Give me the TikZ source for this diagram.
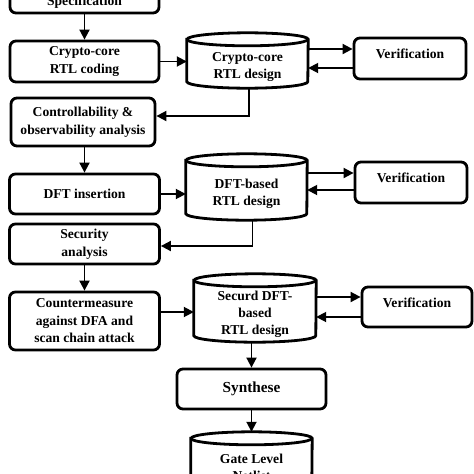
\documentclass[tikz,border=0pt]{standalone}
\usepackage{fontspec}
\setmainfont{Liberation Serif}
\usetikzlibrary{positioning,arrows.meta}

\tikzset{
  box/.style={draw, line width=2.8pt, rounded corners=6pt, align=center,
    font=\bfseries\fontsize{13.6}{17.5}\selectfont, inner sep=2pt},
  verbox/.style={box, minimum width=112pt, minimum height=41pt, text depth=9pt},
  dbbody/.style={align=center, font=\bfseries\fontsize{13.6}{17}\selectfont, inner sep=0pt},
  dbline/.style={line width=2.8pt, fill=white},
  arr/.style={line width=1.8pt, -{Triangle[length=10pt,width=10pt]}}
}

\begin{document}
\begin{tikzpicture}[x=1pt,y=-1pt]
	\useasboundingbox (0,0) rectangle (474,474);
	\clip (0,0) rectangle (474,474);

	% left column
	\node[box, minimum width=149pt, minimum height=42pt, text height=27pt, text depth=0pt] (spec) at (84.5,-8) {Specification};
	\node[box, minimum width=149pt, minimum height=41pt] (code) at (84.5,61.5) {Crypto-core\\RTL coding};
	\node[box, minimum width=144pt, minimum height=48pt] (ctrl) at (83,122) {Controllability \&\\observability analysis};
	\node[box, minimum width=150pt, minimum height=40pt] (dft) at (84.5,194) {DFT insertion};
	\node[box, minimum width=150pt, minimum height=40pt] (sec) at (84.5,244) {Security\\analysis};
	\node[box, minimum width=150pt, minimum height=58pt] (cm) at (84.5,321) {Countermeasure\\against DFA and\\scan chain attack};
	\node[box, minimum width=149pt, minimum height=40pt, font=\bfseries\fontsize{15.3}{18}\selectfont] (syn) at (251.5,389) {Synthese};

	% databases
	\foreach \n/\rx/\h/\p in {db1/60.5/42/{(247.5,67)}, db2/60.5/53/{(246.5,193.5)}, db3/61/55/{(255,314.5)}, db4/60.5/44/{(251.5,467)}}
	\path \p node[minimum width=2*\rx pt, minimum height=\h pt, inner sep=0pt] (\n) {};
	\foreach \n/\rx in {db1/60.5, db2/60.5, db3/61, db4/60.5}{
		\draw[dbline] ([yshift=6.5pt]\n.north west) -- ([yshift=6.5pt]\n.south west) arc(180:360:\rx pt and 6.5pt)
			-- ([yshift=6.5pt]\n.north east) arc(0:180:\rx pt and 6.5pt) -- cycle;
		\draw[dbline, fill=none] ([yshift=6.5pt]\n.north west) arc(180:360:\rx pt and 6.5pt);
	}
	\node[dbbody] at (db1) {Crypto-core\\RTL design};
	\node[dbbody] at (db2) {DFT-based\\RTL design};
	\node[dbbody] at (db3) {Securd DFT-\\based\\RTL design};
	\node[dbbody] at (db4) {Gate Level\\Netlist};

	% verification
	\node[verbox] (ver1) at (410,58.5) {Verification};
	\node[verbox] (ver2) at (411,182.5) {Verification};
	\node[verbox, minimum width=110pt, minimum height=40pt] (ver3) at (417,307) {Verification};

	% arrows
	\draw[arr] (spec) -- (code);
	\draw[arr] (code.east) -- (code.east -| db1.west);
	\draw[arr] ([yshift=18pt]db1.east) -- ([yshift=9.5pt]ver1.west);
	\draw[arr] ([yshift=-9.5pt]ver1.west) -- ([yshift=-1pt]db1.east);
	\draw[arr] ([xshift=1.5pt]db1.south) |- ([yshift=6pt]ctrl.east);
	\draw[arr] (dft.north |- ctrl.south) -- (dft.north);
	\draw[arr] (dft.east) -- (dft.east -| db2.west);
	\draw[arr] ([yshift=20.5pt]db2.east) -- ([yshift=9.5pt]ver2.west);
	\draw[arr] ([yshift=-7.5pt]ver2.west) -- ([yshift=3.5pt]db2.east);
	\draw[arr] ([xshift=6pt]db2.south) |- ([yshift=-2pt]sec.east);
	\draw[arr] (sec) -- (cm);
	\draw[arr] ([yshift=9pt]cm.east) -- ([yshift=2.5pt]db3.west);
	\draw[arr] ([yshift=17.5pt]db3.east) -- ([yshift=10pt]ver3.west);
	\draw[arr] ([yshift=-10pt]ver3.west) -- ([yshift=-2.5pt]db3.east);
	\draw[arr] (db3.south -| syn.north) -- (syn.north);
	\draw[arr] (syn) -- ([yshift=13pt]db4.north);
\end{tikzpicture}
\end{document}
